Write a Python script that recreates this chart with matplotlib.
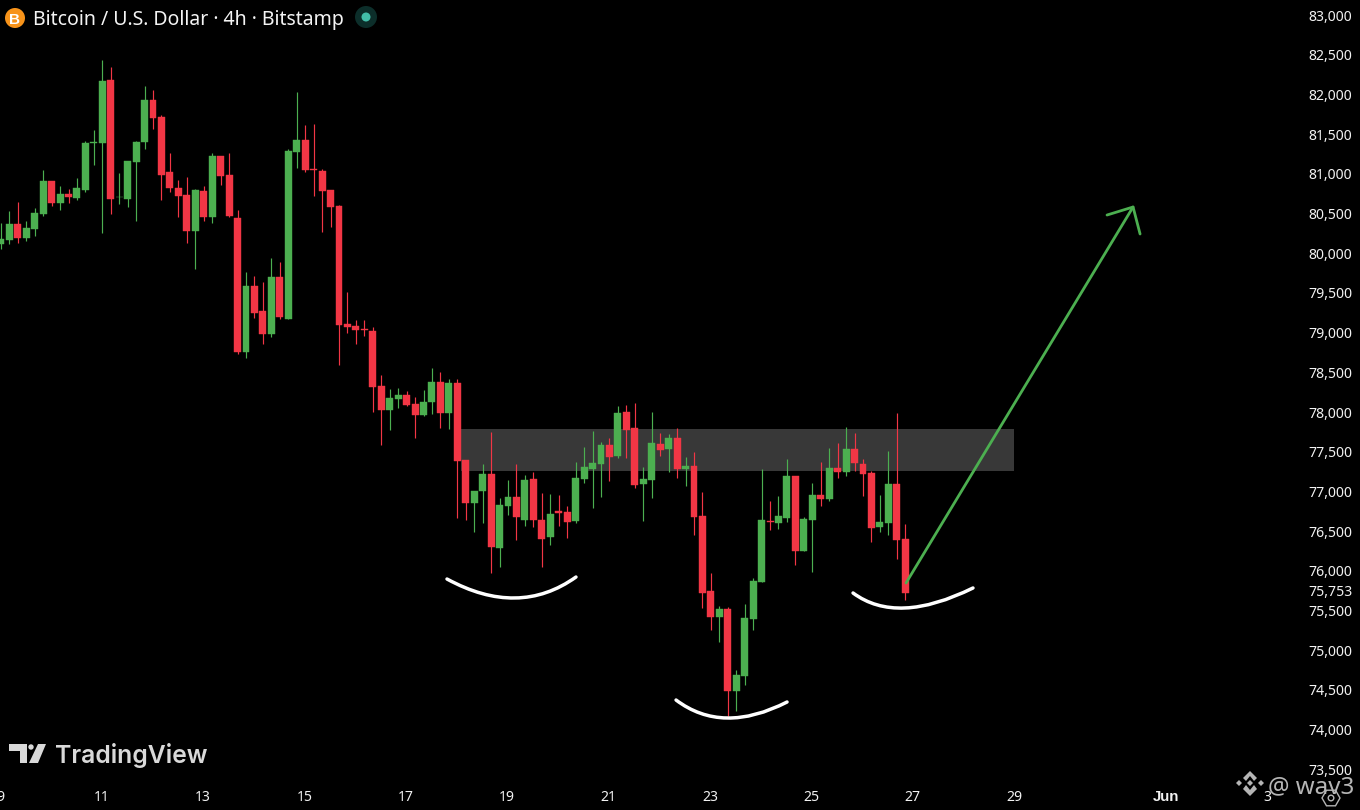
#!/usr/bin/env python3

import matplotlib
matplotlib.use('Agg')
import matplotlib.pyplot as plt
from matplotlib.patches import Circle, PathPatch, Polygon, Rectangle
from matplotlib.path import Path
import numpy as np

plt.rcParams['font.family'] = ['Noto Sans', 'DejaVu Sans']

GREEN = '#4caf50'
RED = '#f23645'

# 4h candles
opens = [80115, 80165, 80367, 80190, 80304, 80493, 80908, 80631, 80745, 80694,
         80795, 81391, 81391, 82181, 80703, 80686, 81148, 81404, 81929, 81715,
         81022, 80820, 80732, 80278, 80782, 80455, 81223, 80984, 80442, 78754,
         79585, 79270, 78981, 79699, 79170, 81274, 81425, 81060, 81034, 80795,
         80593, 79107, 79081, 79044, 79018, 78325, 78023, 78162, 78212, 78099,
         77960, 78124, 78376, 77985, 78363, 77399, 76853, 77004, 77219, 76286,
         76815, 76929, 76639, 77156, 76639, 76425, 76752, 76740, 76626, 77156,
         77282, 77345, 77584, 77445, 77998, 77798, 77093, 77143, 77597, 77534,
         77672, 77282, 77319, 76689, 75744, 75417, 75518, 74484, 74673, 75392,
         75854, 76626, 76601, 76664, 77193, 76248, 76639, 76954, 76904, 77294,
         77244, 77534, 77345, 77231, 76551, 76601, 77093, 76400]
highs = [80384, 80535, 80648, 80405, 80564, 81047, 80908, 80845, 80812, 80946,
         81408, 81551, 82433, 82349, 81013, 81160, 81408, 82105, 82055, 81736,
         81265, 80921, 80963, 80808, 80845, 81265, 81223, 81265, 80543, 79762,
         79711, 79636, 79938, 79888, 81312, 82030, 81614, 81627, 81060, 80795,
         80606, 79510, 79157, 79157, 79069, 78464, 78288, 78300, 78262, 78187,
         78275, 78552, 78502, 78414, 78414, 77399, 77004, 77340, 77744, 76912,
         77143, 77340, 77206, 77244, 76975, 76967, 76954, 76815, 77374, 77563,
         77760, 77622, 77668, 78080, 78088, 78109, 77303, 77998, 77731, 77723,
         77794, 77437, 77500, 76992, 75975, 75555, 75539, 74749, 75581, 75908,
         77282, 76883, 76941, 77408, 77193, 76681, 77101, 77370, 77542, 77605,
         77811, 77731, 77403, 77256, 76954, 77508, 77987, 76589]
lows = [80052, 80115, 80123, 80152, 80215, 80472, 80593, 80539, 80627, 80669,
        80770, 81110, 80249, 80493, 80619, 80585, 80405, 81312, 81564, 80669,
        80770, 80459, 80123, 79795, 80400, 80379, 80858, 80459, 78729, 78678,
        79182, 78863, 78939, 79170, 79170, 81072, 81022, 80719, 80270, 80333,
        78586, 78989, 78855, 78955, 78006, 77590, 77779, 78057, 78073, 77670,
        77947, 77981, 77805, 77792, 76660, 76639, 76484, 76597, 75967, 76051,
        76702, 76387, 76563, 76547, 76051, 76324, 76563, 76408, 76597, 77101,
        76786, 76925, 77130, 77420, 77416, 77046, 76622, 76912, 77445, 77248,
        77164, 77067, 76450, 75530, 75253, 75102, 74169, 74233, 74560, 75261,
        75854, 76513, 76526, 76614, 76068, 76248, 75988, 76815, 76878, 77168,
        77193, 77256, 76941, 76358, 76488, 76450, 76143, 75631]
closes = [80178, 80367, 80190, 80316, 80505, 80908, 80631, 80745, 80707, 80820,
          81391, 81400, 82173, 80686, 80711, 81160, 81400, 81929, 81702, 80984,
          80820, 80719, 80278, 80795, 80455, 81223, 80971, 80467, 78754, 79585,
          79245, 78981, 79699, 79195, 81286, 81425, 81047, 81047, 80782, 80581,
          79094, 79069, 79031, 79035, 78317, 78023, 78174, 78212, 78086, 77960,
          78124, 78376, 77985, 78363, 77382, 76853, 77004, 77219, 76299, 76828,
          76929, 76677, 77143, 76639, 76400, 76715, 76727, 76614, 77168, 77307,
          77357, 77584, 77433, 77987, 77773, 77080, 77156, 77609, 77521, 77672,
          77282, 77319, 76681, 75723, 75417, 75518, 74484, 74686, 75404, 75870,
          76639, 76614, 76689, 77193, 76248, 76652, 76954, 76904, 77294, 77244,
          77534, 77357, 77219, 76538, 76614, 77093, 76387, 75723]

price_ticks = list(range(73500, 83500, 500)) + [75753]
price_labels = [f'{p:,}' for p in price_ticks]

day_ticks = [-0.1, 11.9, 23.9, 35.9, 47.9, 59.9, 71.9, 83.9, 95.9, 107.9, 119.9, 137.9, 149.9]
day_labels = ['9', '11', '13', '15', '17', '19', '21', '23', '25', '27', '29', 'Jun', '3']

# drawings on top of the chart
zone_x = [54.4, 119.9]
zone_price = [77257, 77786]
arc_left_x = [52.78, 61.24, 68.04]
arc_left_price = [75897, 75406, 75922]
arc_mid_x = [79.88, 85.38, 93.01]
arc_mid_price = [74373, 73932, 74348]
arc_right_x = [100.82, 106.02, 115.01]
arc_right_price = [75721, 75311, 75784]
arrow_x = [107.09, 133.95]
arrow_price = [75847, 80582]
head_x = [130.87, 133.95, 134.78]
head_price = [80481, 80582, 80242]

fig = plt.figure(figsize=(13.6, 8.1), dpi=100, facecolor='black')
ax = fig.add_axes([0, 0, 1, 1], facecolor='black')
ax.set_xlim(-0.106, 160.8)
ax.set_ylim(72988, 83189)

ax.add_patch(Rectangle((zone_x[0], zone_price[0]), zone_x[1] - zone_x[0],
                       zone_price[1] - zone_price[0], color='#383838', lw=0, zorder=1))

idx = np.arange(len(opens))
o = np.array(opens)
c = np.array(closes)
colors = [GREEN if b >= a else RED for a, b in zip(o, c)]
ax.vlines(idx, lows, highs, colors=colors, linewidth=0.85, zorder=2)
ax.bar(idx, np.abs(c - o), bottom=np.minimum(o, c), width=0.82, color=colors,
       edgecolor=colors, linewidth=0.3, zorder=3)

for xs, ps in [(arc_left_x, arc_left_price), (arc_mid_x, arc_mid_price), (arc_right_x, arc_right_price)]:
    path = Path(list(zip(xs, ps)), [Path.MOVETO, Path.CURVE3, Path.CURVE3])
    ax.add_patch(PathPatch(path, fill=False, edgecolor='white', linewidth=2.5,
                           capstyle='round', zorder=5))

ax.plot(arrow_x, arrow_price, color=GREEN, linewidth=2.0, solid_capstyle='round', zorder=5)
ax.plot(head_x, head_price, color=GREEN, linewidth=2.0, solid_capstyle='round',
        solid_joinstyle='round', zorder=5)

ax.yaxis.tick_right()
ax.set_yticks(price_ticks, price_labels)
ax.set_xticks(day_ticks, day_labels)
ax.tick_params(axis='y', length=0, pad=-37.5, labelsize=10.1, labelcolor='#f2f2f2')
ax.tick_params(axis='x', length=0, pad=-14.5, labelsize=10.1, labelcolor='#f2f2f2')
jun = ax.get_xticklabels()[day_labels.index('Jun')]
jun.set_family('Liberation Sans')
jun.set_fontweight('bold')
jun.set_fontsize(10.8)
for s in ax.spines.values():
    s.set_visible(False)

# header, logo and watermark sit in plain pixel coordinates
ov = fig.add_axes([0, 0, 1, 1], facecolor='none')
ov.set_xlim(0, 1360)
ov.set_ylim(810, 0)
ov.axis('off')

ov.add_patch(Circle((15, 18), 10, color='#f7931a', lw=0))
ov.text(15, 18, 'B', color='white', fontsize=11, fontweight='bold', family='Liberation Sans',
        ha='center', va='center_baseline')
ov.text(33, 18, 'Bitcoin / U.S. Dollar · 4h · Bitstamp', color='#f4f4f4', fontsize=14,
        ha='left', va='center_baseline')
ov.add_patch(Circle((366, 17), 11, color='#0c2e2a', lw=0))
ov.add_patch(Circle((366, 17), 4.5, color='#42bda8', lw=0))

LOGO = '#d9d9d9'
ov.add_patch(Polygon([(9, 744), (27, 744), (27, 763), (20, 763), (20, 751), (9, 751)], color=LOGO, lw=0))
ov.add_patch(Circle((31, 747), 2.7, color=LOGO, lw=0))
ov.add_patch(Polygon([(38, 744), (46, 744), (38, 763), (29, 763)], color=LOGO, lw=0))
ov.text(55.5, 753, 'TradingView', color=LOGO, fontsize=17.8, fontweight='semibold', family='Inter',
        ha='left', va='center_baseline')

MARK = '#b5b5b5'
for cx, cy in [(1250, 783), (1239, 783), (1261, 783)]:
    ov.add_patch(Polygon([(cx - 3, cy), (cx, cy - 3), (cx + 3, cy), (cx, cy + 3)], color=MARK, lw=0))
ov.add_patch(Polygon([(1250, 771), (1257, 778), (1254, 781), (1250, 776), (1246, 781), (1243, 778)],
                     color=MARK, lw=0))
ov.add_patch(Polygon([(1250, 796), (1257, 789), (1254, 785), (1250, 790), (1246, 785), (1243, 789)],
                     color=MARK, lw=0))
ov.text(1268, 784, '@ wav3', color=MARK, fontsize=17.3, ha='left', va='center_baseline')
ang = np.deg2rad(np.arange(0, 360, 60))
ov.add_patch(Polygon(np.column_stack([1331 + 9 * np.cos(ang), 798 + 9 * np.sin(ang)]),
                     fill=False, edgecolor=MARK, linewidth=1))
ov.add_patch(Circle((1331, 798), 2.8, fill=False, edgecolor=MARK, linewidth=1))

fig.savefig('out.png', dpi=100, facecolor='black')
